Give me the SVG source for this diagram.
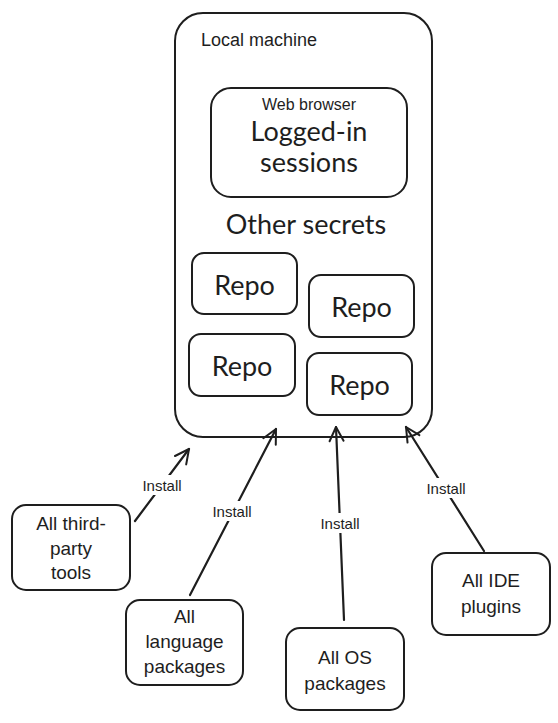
<svg xmlns="http://www.w3.org/2000/svg" width="558" height="723" viewBox="0 0 558 723">
<defs>
<style>
.box{fill:#fff;stroke:#1e1e1e;stroke-width:2;stroke-linejoin:round}
.hand{font-family:"Liberation Sans","DejaVu Sans",sans-serif;fill:#1e1e1e}
.sans{font-family:Lato,"Noto Sans",sans-serif;fill:#1e1e1e}
.edge{fill:none;stroke:#1e1e1e;stroke-width:2.2;stroke-linecap:round}
.lbl{fill:#fff;stroke:none}
</style>
<marker id="ah" markerUnits="userSpaceOnUse" markerWidth="30" markerHeight="30" refX="16" refY="15" orient="auto" viewBox="0 0 30 30">
<path d="M2,8 L16,15 L2,22" fill="none" stroke="#1e1e1e" stroke-width="2" stroke-linecap="round" stroke-linejoin="round"/>
</marker>
</defs>
<rect width="558" height="723" fill="#fff"/>
<g id="local-machine">
<rect class="box" x="175" y="13" width="257" height="424" rx="28"/>
<text class="hand" x="201" y="46" font-size="18">Local machine</text>
</g>
<g id="web-browser">
<rect class="box" x="211" y="88" width="196" height="109" rx="20"/>
<text class="hand" x="309" y="104" font-size="16" text-anchor="middle" dominant-baseline="central">Web browser</text>
<text class="sans" x="309" y="130" font-size="27" text-anchor="middle" dominant-baseline="central">Logged-in</text>
<text class="sans" x="309" y="161" font-size="27" text-anchor="middle" dominant-baseline="central">sessions</text>
</g>
<g id="other-secrets">
<text class="sans" x="306" y="223" font-size="27" text-anchor="middle" dominant-baseline="central">Other secrets</text>
</g>
<g id="repo1">
<rect class="box" x="192" y="253" width="105" height="61" rx="12"/>
<text class="sans" x="244.5" y="284" font-size="27" text-anchor="middle" dominant-baseline="central">Repo</text>
</g>
<g id="repo2">
<rect class="box" x="309" y="275" width="105" height="62" rx="12"/>
<text class="sans" x="361.5" y="306" font-size="27" text-anchor="middle" dominant-baseline="central">Repo</text>
</g>
<g id="repo3">
<rect class="box" x="189" y="334" width="106" height="62" rx="12"/>
<text class="sans" x="242" y="365" font-size="27" text-anchor="middle" dominant-baseline="central">Repo</text>
</g>
<g id="repo4">
<rect class="box" x="307" y="353" width="105" height="62" rx="12"/>
<text class="sans" x="359.5" y="384" font-size="27" text-anchor="middle" dominant-baseline="central">Repo</text>
</g>
<g id="connectors">
<line class="edge" x1="135" y1="521" x2="189" y2="449" marker-end="url(#ah)"/>
<line class="edge" x1="190" y1="595" x2="276" y2="429" marker-end="url(#ah)"/>
<line class="edge" x1="344" y1="620" x2="336" y2="427" marker-end="url(#ah)"/>
<line class="edge" x1="484" y1="551" x2="406" y2="427" marker-end="url(#ah)"/>
<rect class="lbl" x="134" y="475" width="56" height="20"/>
<text class="hand" x="162" y="485" font-size="15" text-anchor="middle" dominant-baseline="central">Install</text>
<rect class="lbl" x="204" y="501" width="56" height="20"/>
<text class="hand" x="232" y="511" font-size="15" text-anchor="middle" dominant-baseline="central">Install</text>
<rect class="lbl" x="312" y="513" width="56" height="20"/>
<text class="hand" x="340" y="523" font-size="15" text-anchor="middle" dominant-baseline="central">Install</text>
<rect class="lbl" x="418" y="478" width="56" height="20"/>
<text class="hand" x="446" y="488" font-size="15" text-anchor="middle" dominant-baseline="central">Install</text>
</g>
<g id="third-party">
<rect class="box" x="12" y="505" width="118" height="85" rx="14"/>
<text class="hand" x="71" y="523" font-size="19" text-anchor="middle" dominant-baseline="central">All third-</text>
<text class="hand" x="71" y="548" font-size="19" text-anchor="middle" dominant-baseline="central">party</text>
<text class="hand" x="71" y="572" font-size="19" text-anchor="middle" dominant-baseline="central">tools</text>
</g>
<g id="language">
<rect class="box" x="126" y="600" width="117" height="85" rx="14"/>
<text class="hand" x="184.5" y="616" font-size="19" text-anchor="middle" dominant-baseline="central">All</text>
<text class="hand" x="184.5" y="641" font-size="19" text-anchor="middle" dominant-baseline="central">language</text>
<text class="hand" x="184.5" y="666" font-size="19" text-anchor="middle" dominant-baseline="central">packages</text>
</g>
<g id="os">
<rect class="box" x="286" y="628" width="118" height="82" rx="14"/>
<text class="hand" x="345" y="657" font-size="19" text-anchor="middle" dominant-baseline="central">All OS</text>
<text class="hand" x="345" y="683" font-size="19" text-anchor="middle" dominant-baseline="central">packages</text>
</g>
<g id="ide">
<rect class="box" x="432" y="553" width="118" height="82" rx="14"/>
<text class="hand" x="491" y="580" font-size="19" text-anchor="middle" dominant-baseline="central">All IDE</text>
<text class="hand" x="491" y="606" font-size="19" text-anchor="middle" dominant-baseline="central">plugins</text>
</g>
</svg>
